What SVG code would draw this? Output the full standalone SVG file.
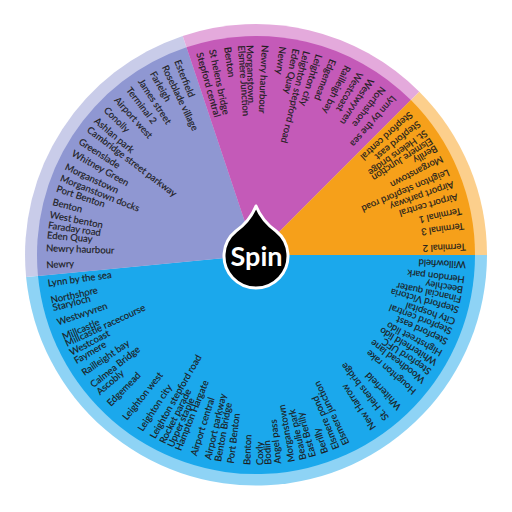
<svg xmlns="http://www.w3.org/2000/svg" width="512" height="512" viewBox="0 0 512 512">
<style>
.t{font-family:Lato,"Noto Sans",sans-serif;font-size:9.5px;fill:#1c1c1c;stroke:#1c1c1c;stroke-width:0.15px}
</style>
<rect width="512" height="512" fill="#ffffff"/>
<g id="wheel">
<path d="M256,255 L487,255 A231,231 0 0 1 26.1,277.1 Z" fill="#8ed3f5"/>
<path d="M256,255 L26.1,277.1 A231,231 0 0 1 182.7,35.9 Z" fill="#c9cce9"/>
<path d="M256,255 L182.7,35.9 A231,231 0 0 1 419.3,91.7 Z" fill="#e4aadc"/>
<path d="M256,255 L419.3,91.7 A231,231 0 0 1 487,255 Z" fill="#fccf8c"/>
<path d="M256,255 L475,255 A219,219 0 0 1 38,276 Z" fill="#1ba8ec"/>
<path d="M256,255 L38,276 A219,219 0 0 1 186.5,47.3 Z" fill="#8f97d2"/>
<path d="M256,255 L186.5,47.3 A219,219 0 0 1 410.9,100.1 Z" fill="#c45ab8"/>
<path d="M256,255 L410.9,100.1 A219,219 0 0 1 475,255 Z" fill="#f6a01a"/>
</g>
<g id="labels-lavender">
<text class="t" x="46" y="258.3" transform="rotate(-2.7 256 255)">Newry</text>
<text class="t" x="46" y="258.3" transform="rotate(1.9 256 255)">Newry haurbour</text>
<text class="t" x="46" y="258.3" transform="rotate(5.5 256 255)">Eden Quay</text>
<text class="t" x="46" y="258.3" transform="rotate(8.2 256 255)">Faraday road</text>
<text class="t" x="46" y="258.3" transform="rotate(11.1 256 255)">West benton</text>
<text class="t" x="46" y="258.3" transform="rotate(14.7 256 255)">Benton</text>
<text class="t" x="46" y="258.3" transform="rotate(18.5 256 255)">Port Benton</text>
<text class="t" x="46" y="258.3" transform="rotate(21.6 256 255)">Morganstown docks</text>
<text class="t" x="46" y="258.3" transform="rotate(25 256 255)">Morganstown</text>
<text class="t" x="46" y="258.3" transform="rotate(29.2 256 255)">Whitney Green</text>
<text class="t" x="46" y="258.3" transform="rotate(33 256 255)">Greenslade</text>
<text class="t" x="46" y="258.3" transform="rotate(37 256 255)">Cambridge street parkway</text>
<text class="t" x="46" y="258.3" transform="rotate(40.2 256 255)">Ashlan park</text>
<text class="t" x="46" y="258.3" transform="rotate(44.2 256 255)">Conolly</text>
<text class="t" x="46" y="258.3" transform="rotate(48.3 256 255)">Airport west</text>
<text class="t" x="46" y="258.3" transform="rotate(52.6 256 255)">Terminal 2</text>
<text class="t" x="46" y="258.3" transform="rotate(56.6 256 255)">James street</text>
<text class="t" x="46" y="258.3" transform="rotate(60.5 256 255)">Farleigh</text>
<text class="t" x="46" y="258.3" transform="rotate(64.2 256 255)">Roseblade village</text>
<text class="t" x="46" y="258.3" transform="rotate(68 256 255)">Esterfield</text>
</g>
<g id="labels-magenta">
<text class="t" x="46" y="258.3" transform="rotate(74.4 256 255)">Stepford central</text>
<text class="t" x="46" y="258.3" transform="rotate(78 256 255)">St helens bridge</text>
<text class="t" x="46" y="258.3" transform="rotate(82.2 256 255)">Benton</text>
<text class="t" x="46" y="258.3" transform="rotate(86 256 255)">Elsmere Junction</text>
<text class="t" x="46" y="258.3" transform="rotate(88.3 256 255)">Morganstown</text>
<text class="t" x="46" y="258.3" transform="rotate(92.5 256 255)">Newry haurbour</text>
<text class="t" x="46" y="258.3" transform="rotate(97.3 256 255)">Newry</text>
<text class="t" x="46" y="258.3" transform="rotate(101 256 255)">Eden Quay</text>
<text class="t" x="46" y="258.3" transform="rotate(104 256 255)">Leighton stepford road</text>
<text class="t" x="46" y="258.3" transform="rotate(107.5 256 255)">Leighton city</text>
<text class="t" x="46" y="258.3" transform="rotate(111.5 256 255)">Edgemead</text>
<text class="t" x="46" y="258.3" transform="rotate(116 256 255)">Railleigh bay</text>
<text class="t" x="46" y="258.3" transform="rotate(119.8 256 255)">Westcoast</text>
<text class="t" x="46" y="258.3" transform="rotate(123.4 256 255)">Westwyvren</text>
<text class="t" x="46" y="258.3" transform="rotate(127.3 256 255)">Northshore</text>
<text class="t" x="46" y="258.3" transform="rotate(131.3 256 255)">Lynn by the sea</text>
</g>
<g id="labels-orange">
<text class="t" x="46" y="258.3" transform="rotate(137.7 256 255)">Stepford central</text>
<text class="t" x="46" y="258.3" transform="rotate(141.1 256 255)">Stepford east</text>
<text class="t" x="46" y="258.3" transform="rotate(144.3 256 255)">St. Helens bridge</text>
<text class="t" x="46" y="258.3" transform="rotate(146.9 256 255)">Elsmere Junction</text>
<text class="t" x="46" y="258.3" transform="rotate(149.3 256 255)">Berilly</text>
<text class="t" x="46" y="258.3" transform="rotate(152.7 256 255)">Morganstown</text>
<text class="t" x="46" y="258.3" transform="rotate(156.8 256 255)">Leighton stepford road</text>
<text class="t" x="46" y="258.3" transform="rotate(160.3 256 255)">Airport parkway</text>
<text class="t" x="46" y="258.3" transform="rotate(163.9 256 255)">Airport central</text>
<text class="t" x="46" y="258.3" transform="rotate(167.9 256 255)">Terminal 1</text>
<text class="t" x="46" y="258.3" transform="rotate(172.1 256 255)">Terminal 3</text>
<text class="t" x="46" y="258.3" transform="rotate(177.8 256 255)">Terminal 2</text>
</g>
<g id="labels-blue">
<text class="t" x="46" y="258.3" transform="rotate(182.7 256 255)">Willowfield</text>
<text class="t" x="46" y="258.3" transform="rotate(186.8 256 255)">Herndon park</text>
<text class="t" x="46" y="258.3" transform="rotate(189.6 256 255)">Beechley</text>
<text class="t" x="46" y="258.3" transform="rotate(192.3 256 255)">Financial quater</text>
<text class="t" x="46" y="258.3" transform="rotate(195.2 256 255)">Stepford Victoria</text>
<text class="t" x="46" y="258.3" transform="rotate(198.6 256 255)">City hospital</text>
<text class="t" x="46" y="258.3" transform="rotate(201.4 256 255)">Stepford central</text>
<text class="t" x="46" y="258.3" transform="rotate(204.5 256 255)">Stepford east</text>
<text class="t" x="46" y="258.3" transform="rotate(208 256 255)">Highstreet lido</text>
<text class="t" x="46" y="258.3" transform="rotate(211 256 255)">Whiterfield lido</text>
<text class="t" x="46" y="258.3" transform="rotate(214 256 255)">Stepford UFC</text>
<text class="t" x="46" y="258.3" transform="rotate(217 256 255)">Woodhead lane</text>
<text class="t" x="46" y="258.3" transform="rotate(221 256 255)">Houghton rake</text>
<text class="t" x="46" y="258.3" transform="rotate(227 256 255)">Whiterfield</text>
<text class="t" x="46" y="258.3" transform="rotate(231.5 256 255)">St. Helens bridge</text>
<text class="t" x="46" y="258.3" transform="rotate(236 256 255)">New Harrow</text>
<text class="t" x="46" y="258.3" transform="rotate(244.5 256 255)">Elsmere junction</text>
<text class="t" x="46" y="258.3" transform="rotate(247.5 256 255)">Elsmere pond</text>
<text class="t" x="46" y="258.3" transform="rotate(250.8 256 255)">Berilly</text>
<text class="t" x="46" y="258.3" transform="rotate(254.3 256 255)">East Berilly</text>
<text class="t" x="46" y="258.3" transform="rotate(257 256 255)">Beaulie park</text>
<text class="t" x="46" y="258.3" transform="rotate(260.3 256 255)">Morganstown</text>
<text class="t" x="46" y="258.3" transform="rotate(264 256 255)">Angel pass</text>
<text class="t" x="46" y="258.3" transform="rotate(266.7 256 255)">Bodin</text>
<text class="t" x="46" y="258.3" transform="rotate(268.9 256 255)">Coxly</text>
<text class="t" x="46" y="258.3" transform="rotate(272.5 256 255)">Benton</text>
<text class="t" x="46" y="258.3" transform="rotate(277 256 255)">Port Benton</text>
<text class="t" x="46" y="258.3" transform="rotate(280.5 256 255)">Benton Bridge</text>
<text class="t" x="46" y="258.3" transform="rotate(283.3 256 255)">Airport parkway</text>
<text class="t" x="46" y="258.3" transform="rotate(287.3 256 255)">Airport central</text>
<text class="t" x="46" y="258.3" transform="rotate(291.8 256 255)">Hampton Hargate</text>
<text class="t" x="46" y="258.3" transform="rotate(294.1 256 255)">Upper staple</text>
<text class="t" x="46" y="258.3" transform="rotate(296.6 256 255)">Rocket parade</text>
<text class="t" x="46" y="258.3" transform="rotate(299.6 256 255)">Leighton stepford road</text>
<text class="t" x="46" y="258.3" transform="rotate(303.5 256 255)">Leighton city</text>
<text class="t" x="46" y="258.3" transform="rotate(308.8 256 255)">Leighton west</text>
<text class="t" x="46" y="258.3" transform="rotate(314.6 256 255)">Edgemead</text>
<text class="t" x="46" y="258.3" transform="rotate(318.9 256 255)">Ascobly</text>
<text class="t" x="46" y="258.3" transform="rotate(321.6 256 255)">Calmea Bridge</text>
<text class="t" x="46" y="258.3" transform="rotate(325.7 256 255)">Railleight bay</text>
<text class="t" x="46" y="258.3" transform="rotate(329.6 256 255)">Faymere</text>
<text class="t" x="46" y="258.3" transform="rotate(332.2 256 255)">Westcoast</text>
<text class="t" x="46" y="258.3" transform="rotate(335 256 255)">Millcastle racecourse</text>
<text class="t" x="46" y="258.3" transform="rotate(337 256 255)">Millcastle</text>
<text class="t" x="46" y="258.3" transform="rotate(341.3 256 255)">Westwyvren</text>
<text class="t" x="46" y="258.3" transform="rotate(345.4 256 255)">Staryloch</text>
<text class="t" x="46" y="258.3" transform="rotate(347.6 256 255)">Northshore</text>
<text class="t" x="46" y="258.3" transform="rotate(352.3 256 255)">Lynn by the sea</text>
</g>
<g id="spin-button">
<path d="M256,206 Q262,221 276,231 A32,32 0 1 1 236,231 Q250,221 256,206 Z" fill="#000000" stroke="#ffffff" stroke-width="3" stroke-linejoin="round"/>
<text x="256.5" y="266" text-anchor="middle" font-family="Lato,'Noto Sans',sans-serif" font-weight="bold" font-size="27" fill="#ffffff">Spin</text>
</g>
</svg>
